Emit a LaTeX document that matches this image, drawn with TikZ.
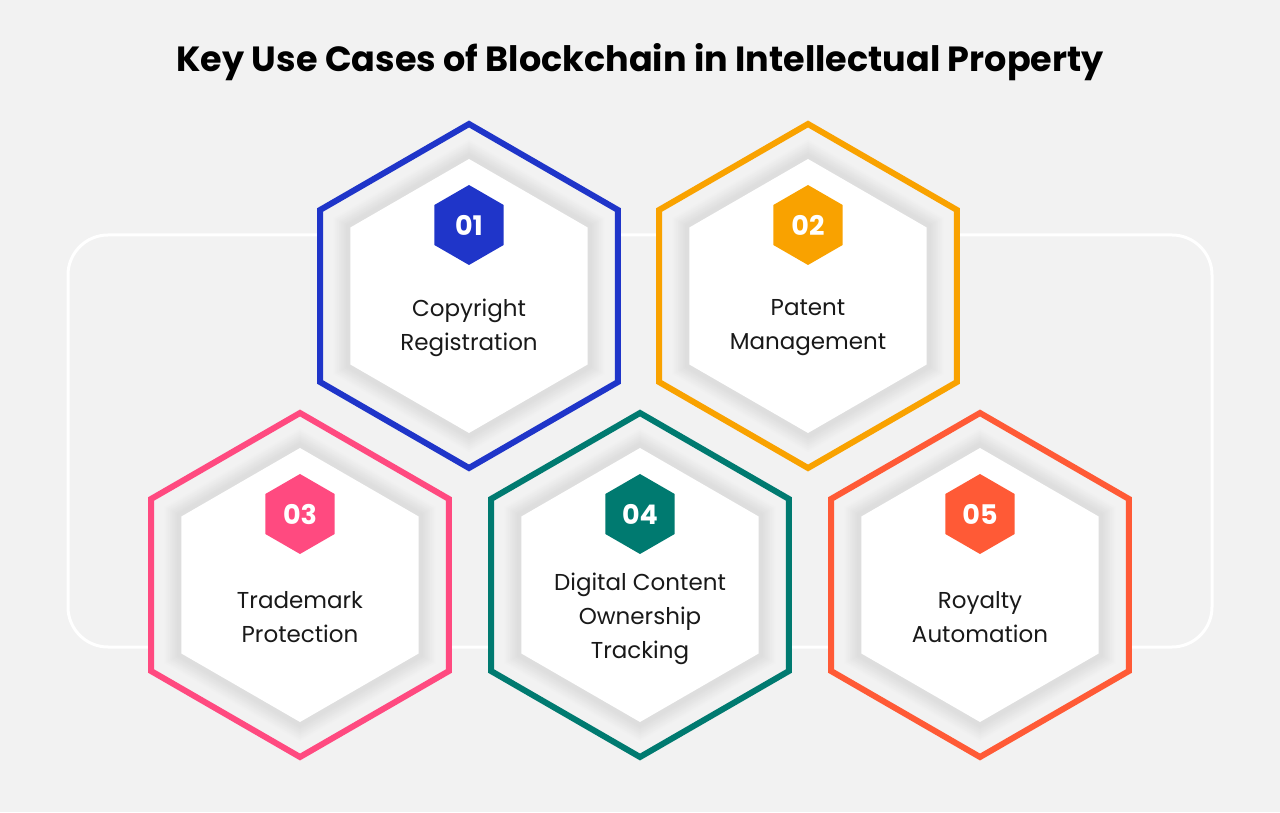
\documentclass[tikz,border=0pt]{standalone}
\usepackage{fontspec}
\setmainfont{Poppins}
\definecolor{bg}{HTML}{F2F2F2}
\definecolor{cA}{HTML}{1F35C9}
\definecolor{cB}{HTML}{F9A200}
\definecolor{cC}{HTML}{FF4A80}
\definecolor{cD}{HTML}{007A70}
\definecolor{cE}{HTML}{FF5A36}
\newcommand{\hexpath}[3]{(#1+0,#2+#3)--(#1+0.866*#3,#2+0.5*#3)--(#1+0.866*#3,#2-0.5*#3)--(#1+0,#2-#3)--(#1-0.866*#3,#2-0.5*#3)--(#1-0.866*#3,#2+0.5*#3)--cycle}
\newcommand{\hx}[7]{%
 \fill[bg,draw=#3,line width=6pt,line join=miter] \hexpath{#1}{#2}{172};
 \foreach \r/\g in {156/6,154/7,152/8,150/9,148/10,146/11,144/12,142/13,140/13}{\fill[black!\g!white] \hexpath{#1}{#2}{\r};}
 \fill[white] \hexpath{#1}{#2}{137};
 \fill[#3] \hexpath{#1}{#2+71}{40};
 \node[font=\fontsize{27}{27}\selectfont\bfseries,text=white] (n#7) at (#1,#2+71) {#4};
 \node[font=\fontsize{23}{34}\selectfont,align=center,text=black!90] (t#7) at (#1,#2-#5) {#6};
}
\begin{document}
\begin{tikzpicture}[x=1pt,y=1pt]
\fill[bg] (0,0) rectangle (1280,812);
\useasboundingbox (0,0) rectangle (1280,812);
\node[font=\fontsize{35}{35}\selectfont\bfseries] (title) at (640,750) {Key Use Cases of Blockchain in Intellectual Property};
\draw[white,line width=3pt,rounded corners=40pt] (68,165) rectangle (1212,577);
\hx{469}{516}{cA}{01}{32}{Copyright\\Registration}{a}
\hx{808}{516}{cB}{02}{32}{Patent\\Management}{b}
\hx{300}{227}{cC}{03}{32}{Trademark\\Protection}{c}
\hx{640}{227}{cD}{04}{34}{Digital Content\\Ownership\\Tracking}{d}
\hx{980}{227}{cE}{05}{32}{Royalty\\Automation}{e}
\end{tikzpicture}
\end{document}
